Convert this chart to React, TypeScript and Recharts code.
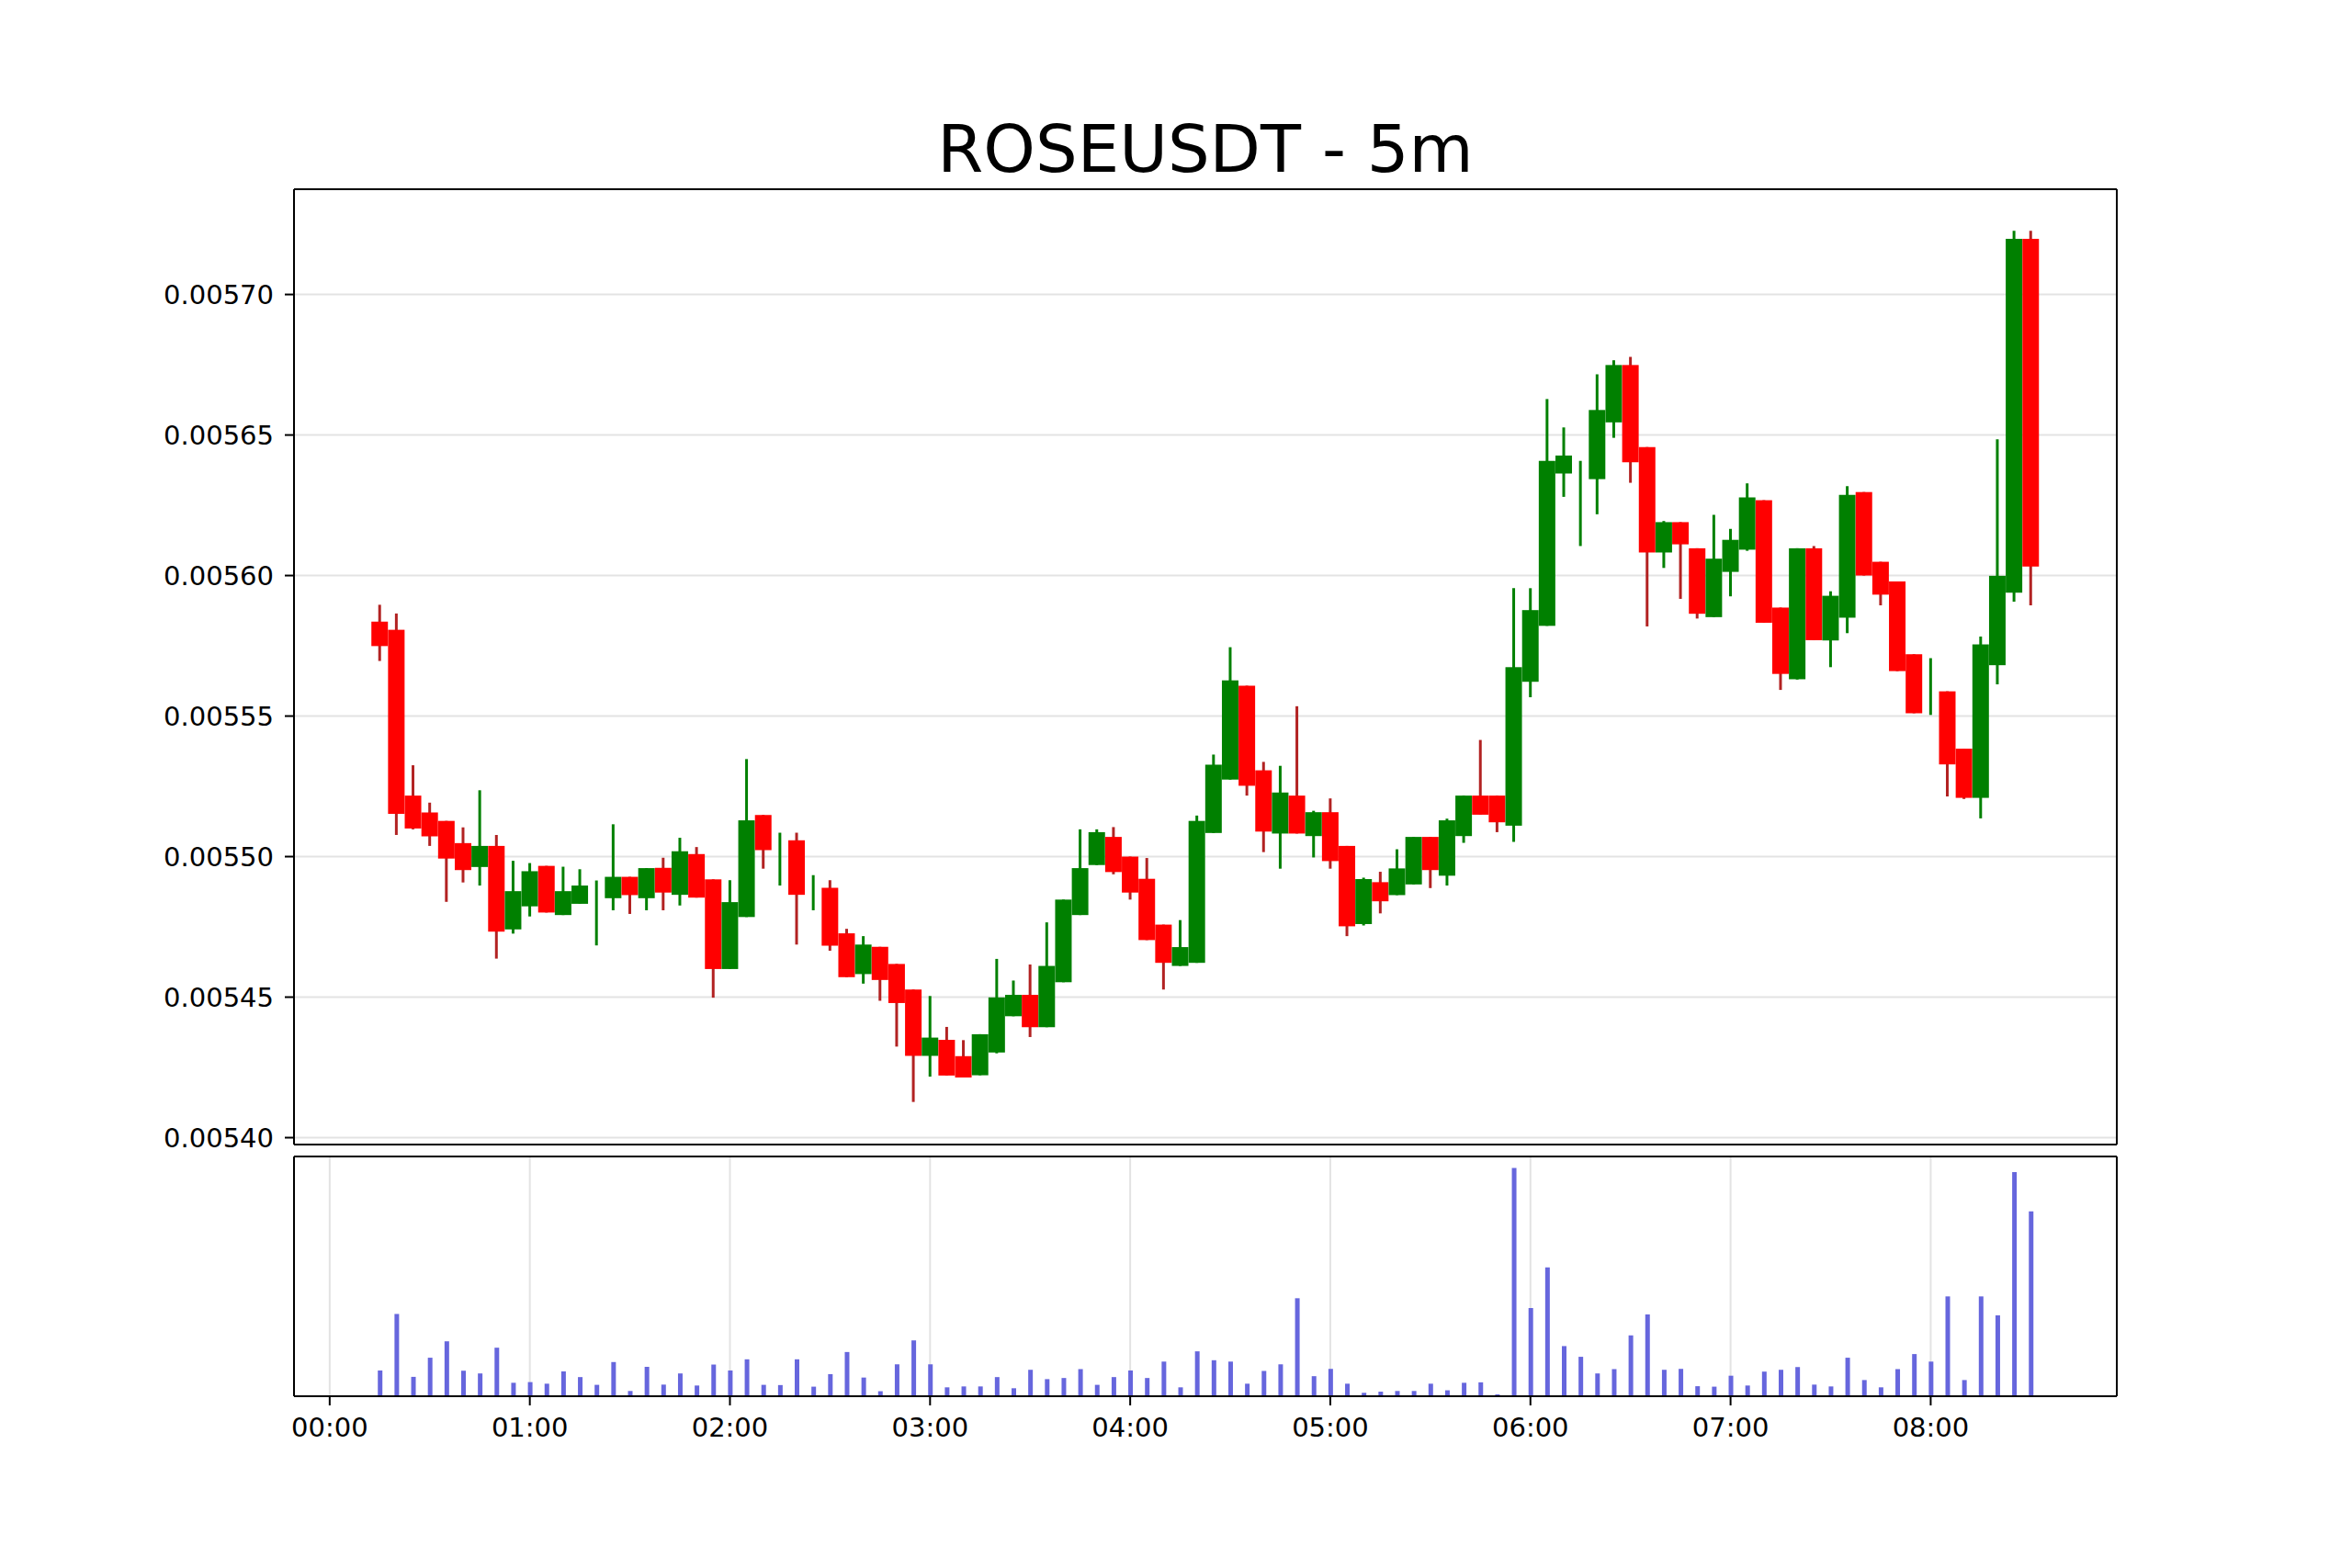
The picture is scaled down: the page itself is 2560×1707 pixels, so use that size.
import { Bar, CartesianGrid, ComposedChart, XAxis, YAxis } from 'recharts';

// 5m candles, ROSEUSDT
const times = [
  '00:15', '00:20', '00:25', '00:30', '00:35', '00:40', '00:45', '00:50', '00:55',
  '01:00', '01:05', '01:10', '01:15', '01:20', '01:25', '01:30', '01:35', '01:40', '01:45', '01:50', '01:55',
  '02:00', '02:05', '02:10', '02:15', '02:20', '02:25', '02:30', '02:35', '02:40', '02:45', '02:50', '02:55',
  '03:00', '03:05', '03:10', '03:15', '03:20', '03:25', '03:30', '03:35', '03:40', '03:45', '03:50', '03:55',
  '04:00', '04:05', '04:10', '04:15', '04:20', '04:25', '04:30', '04:35', '04:40', '04:45', '04:50', '04:55',
  '05:00', '05:05', '05:10', '05:15', '05:20', '05:25', '05:30', '05:35', '05:40', '05:45', '05:50', '05:55',
  '06:00', '06:05', '06:10', '06:15', '06:20', '06:25', '06:30', '06:35', '06:40', '06:45', '06:50', '06:55',
  '07:00', '07:05', '07:10', '07:15', '07:20', '07:25', '07:30', '07:35', '07:40', '07:45', '07:50', '07:55',
  '08:00', '08:05', '08:10', '08:15', '08:20', '08:25', '08:30',
];

const opens = [
  0.0055836, 0.0055807, 0.0055217, 0.0055157, 0.0055127, 0.0055048, 0.0054963, 0.0055038, 0.0054741,
  0.0054823, 0.0054967, 0.0054792, 0.0054832, 0.0054895, 0.0054852, 0.0054928, 0.0054852, 0.005496, 0.0054864, 0.0055009, 0.0054919,
  0.00546, 0.0054785, 0.0055148, 0.005499, 0.0055058, 0.005486, 0.0054889, 0.0054727, 0.0054582, 0.0054679, 0.0054618, 0.0054527,
  0.0054291, 0.0054348, 0.005429, 0.0054222, 0.0054303, 0.0054432, 0.0054508, 0.0054393, 0.0054553, 0.0054792, 0.005497, 0.005507,
  0.0055, 0.0054921, 0.0054758, 0.0054611, 0.0054622, 0.0055084, 0.0055274, 0.0055608, 0.0055307, 0.0055082, 0.0055217, 0.0055073,
  0.0055158, 0.0055038, 0.005476, 0.0054909, 0.0054863, 0.0054901, 0.005507, 0.0054932, 0.0055073, 0.0055217, 0.0055217, 0.005511,
  0.0055622, 0.0055821, 0.0056363, 0.00563, 0.0056343, 0.0056545, 0.0056749, 0.0056457, 0.0056082, 0.005619, 0.0056097, 0.0055852,
  0.0056013, 0.0056092, 0.0056268, 0.0055886, 0.0055631, 0.0056097, 0.0055769, 0.005585, 0.0056297, 0.0056049, 0.0055979, 0.005572,
  0.00556, 0.0055588, 0.0055384, 0.0055209, 0.0055681, 0.0055939, 0.0057198,
];

const highs = [
  0.0055896, 0.0055865, 0.0055325, 0.0055192, 0.0055127, 0.0055104, 0.0055236, 0.0055077, 0.0054985,
  0.0054977, 0.0054967, 0.0054964, 0.0054955, 0.0054915, 0.0055115, 0.0054928, 0.0054959, 0.0054996, 0.0055067, 0.0055034, 0.0054919,
  0.0054916, 0.0055347, 0.0055148, 0.0055085, 0.0055085, 0.0054934, 0.0054916, 0.0054743, 0.0054717, 0.0054679, 0.0054618, 0.0054527,
  0.0054504, 0.0054394, 0.0054347, 0.0054368, 0.0054636, 0.0054559, 0.0054616, 0.0054766, 0.0054847, 0.0055097, 0.0055097, 0.0055105,
  0.0055, 0.0054995, 0.0054758, 0.0054774, 0.0055146, 0.0055363, 0.0055745, 0.0055608, 0.0055337, 0.0055323, 0.0055535, 0.0055163,
  0.0055207, 0.0055038, 0.0054925, 0.0054946, 0.0055026, 0.005507, 0.005507, 0.0055135, 0.0055217, 0.0055415, 0.0055217, 0.0055955,
  0.0055955, 0.0056628, 0.0056527, 0.0056408, 0.0056716, 0.0056766, 0.0056778, 0.0056457, 0.0056194, 0.005619, 0.0056097, 0.0056216,
  0.0056166, 0.0056328, 0.0056268, 0.0055886, 0.0056097, 0.0056105, 0.0055944, 0.0056318, 0.0056297, 0.0056049, 0.0055979, 0.005572,
  0.0055706, 0.0055588, 0.0055384, 0.0055783, 0.0056485, 0.0057227, 0.0057227,
];

const lows = [
  0.0055696, 0.0055077, 0.0055097, 0.0055038, 0.0054839, 0.0054908, 0.0054897, 0.0054637, 0.0054726,
  0.0054787, 0.0054801, 0.0054792, 0.0054832, 0.0054684, 0.0054809, 0.0054796, 0.0054809, 0.0054809, 0.0054826, 0.0054854, 0.0054498,
  0.00546, 0.0054785, 0.0054957, 0.0054897, 0.0054687, 0.0054809, 0.0054665, 0.0054571, 0.0054548, 0.0054487, 0.0054324, 0.0054127,
  0.0054217, 0.0054221, 0.0054214, 0.0054222, 0.00543, 0.0054432, 0.0054358, 0.0054393, 0.0054553, 0.0054792, 0.005497, 0.0054937,
  0.0054847, 0.0054703, 0.0054527, 0.0054611, 0.0054622, 0.0055084, 0.0055274, 0.0055217, 0.0055016, 0.0054957, 0.0055082, 0.0054997,
  0.0054957, 0.0054717, 0.0054755, 0.0054798, 0.0054863, 0.0054901, 0.0054888, 0.0054897, 0.0055049, 0.0055149, 0.0055087, 0.0055052,
  0.0055567, 0.0055821, 0.005628, 0.0056105, 0.0056218, 0.005649, 0.005633, 0.0055819, 0.0056027, 0.0055917, 0.0055847, 0.0055852,
  0.0055926, 0.0056088, 0.0055832, 0.0055593, 0.005563, 0.005577, 0.0055674, 0.0055795, 0.0056, 0.0055894, 0.005566, 0.005551,
  0.0055504, 0.0055214, 0.0055205, 0.0055136, 0.0055613, 0.0055907, 0.0055894,
];

const closes = [
  0.0055749, 0.0055152, 0.00551, 0.0055072, 0.0054993, 0.0054952, 0.0055038, 0.0054733, 0.0054877,
  0.0054948, 0.0054801, 0.0054877, 0.0054897, 0.0054895, 0.0054928, 0.0054863, 0.0054959, 0.0054872, 0.0055019, 0.0054854, 0.00546,
  0.0054838, 0.0055129, 0.0055023, 0.005499, 0.0054864, 0.005486, 0.0054683, 0.0054571, 0.0054687, 0.0054561, 0.0054479, 0.0054291,
  0.0054356, 0.0054221, 0.0054214, 0.0054368, 0.0054499, 0.0054508, 0.0054393, 0.0054611, 0.0054847, 0.0054959, 0.0055087, 0.0054945,
  0.0054872, 0.0054703, 0.0054622, 0.0054678, 0.0055127, 0.0055327, 0.0055627, 0.0055252, 0.0055089, 0.0055228, 0.0055082, 0.0055158,
  0.0054984, 0.0054752, 0.005492, 0.0054841, 0.0054958, 0.005507, 0.0054952, 0.0055129, 0.0055217, 0.0055149, 0.0055122, 0.0055674,
  0.0055877, 0.0056408, 0.0056427, 0.00563, 0.0056589, 0.0056749, 0.0056403, 0.0056082, 0.005619, 0.0056111, 0.0055864, 0.005606,
  0.0056127, 0.0056278, 0.0055832, 0.005565, 0.0056097, 0.005577, 0.0055928, 0.0056287, 0.0056, 0.0055932, 0.005566, 0.005551,
  0.00556, 0.0055328, 0.0055209, 0.0055755, 0.0055999, 0.0057198, 0.0056032,
];

const volumes = [
  11.3, 36.1, 8.5, 16.9, 24.1, 11.2, 10.0, 21.3, 5.9,
  6.2, 5.5, 10.9, 8.4, 5.0, 15.0, 2.3, 12.9, 5.1, 10.0, 4.7, 13.9,
  11.3, 16.2, 5.0, 4.9, 16.2, 4.2, 9.7, 19.4, 8.2, 2.2, 14.0, 24.5,
  14.0, 3.9, 4.3, 4.3, 8.4, 3.5, 11.6, 7.5, 8.0, 11.9, 5.0, 8.4,
  11.3, 8.0, 15.2, 3.9, 19.7, 15.8, 15.2, 5.5, 11.1, 14.0, 43.0, 8.8,
  12.0, 5.5, 1.5, 2.0, 2.3, 2.3, 5.5, 2.6, 5.9, 6.1, 0.8, 100.2,
  38.7, 56.5, 22.0, 17.3, 10.0, 11.9, 26.7, 35.9, 11.6, 12.0, 4.4, 4.2,
  9.0, 4.7, 10.8, 11.6, 12.8, 5.1, 4.3, 16.9, 7.1, 3.9, 11.9, 18.5,
  15.2, 43.8, 7.1, 43.8, 35.5, 98.3, 81.1,
];

const hourTicks = [0, 60, 120, 180, 240, 300, 360, 420, 480];
const priceTicks = [0.0054, 0.00545, 0.0055, 0.00555, 0.0056, 0.00565, 0.0057];

const X_DOMAIN: [number, number] = [-10.7, 535.8];
const PRICE_DOMAIN: [number, number] = [0.00539755, 0.00573745];
const VOLUME_DOMAIN: [number, number] = [0, 105.2];

const UP = '#008000';
const DOWN = '#ff0000';
const DOWN_WICK = '#b22222';
const VOLUME_COLOR = '#6666dd';
const GRID = '#e3e3e3';
const FONT = 'DejaVu Sans';
const TICK = { fill: '#000', fontSize: 29, fontFamily: FONT };
const AXIS_LINE = { stroke: '#000', strokeWidth: 2 };
const CANDLE_W = 18;

const toMinutes = (t: string) => {
  const [h, m] = t.split(':').map(Number);
  return h * 60 + m;
};

const rows = times.map((t, i) => ({
  t: toMinutes(t),
  open: opens[i],
  high: highs[i],
  low: lows[i],
  close: closes[i],
  volume: volumes[i],
}));

const hourLabel = (m: number) => `${String(Math.round(m / 60)).padStart(2, '0')}:00`;

// range bar [low, high] gives the pixel span; open/close are placed inside it
function Candle(props: any) {
  const { x, y, width, height, payload } = props;
  if (!payload || height == null) return null;
  const cx = x + width / 2;
  const yHigh = Math.min(y, y + height);
  const yLow = Math.max(y, y + height);
  const { open, close, high, low } = payload;
  const k = (yLow - yHigh) / (high - low || 1);
  const py = (v: number) => yHigh + (high - v) * k;
  const up = close >= open;
  const bodyTop = py(Math.max(open, close));
  const bodyBottom = py(Math.min(open, close));
  return (
    <g>
      <line x1={cx} x2={cx} y1={yHigh} y2={yLow} stroke={up ? UP : DOWN_WICK} strokeWidth={3} />
      {bodyBottom - bodyTop > 0 && (
        <rect
          x={cx - CANDLE_W / 2}
          y={bodyTop}
          width={CANDLE_W}
          height={bodyBottom - bodyTop}
          fill={up ? UP : DOWN}
        />
      )}
    </g>
  );
}

export default function App() {
  return (
    <div style={{ position: 'absolute', left: 0, top: 0, width: 2560, height: 1707, background: '#fff' }}>
      <svg width={2560} height={240} style={{ position: 'absolute', left: 0, top: 0 }}>
        <text x={1312} y={187} textAnchor="middle" fontSize={72} fontFamily={FONT} fill="#000">
          ROSEUSDT - 5m
        </text>
      </svg>

      <div style={{ position: 'absolute', left: 0, top: 0 }}>
        <ComposedChart
          width={2560}
          height={1280}
          data={rows}
          margin={{ top: 205, right: 255, bottom: 33, left: 120 }}
        >
          <CartesianGrid stroke={GRID} strokeWidth={2} />
          <XAxis
            dataKey="t"
            type="number"
            domain={X_DOMAIN}
            ticks={hourTicks}
            allowDataOverflow
            height={1}
            tick={false}
            tickLine={false}
            axisLine={AXIS_LINE}
          />
          <XAxis
            xAxisId="top"
            orientation="top"
            type="number"
            domain={X_DOMAIN}
            height={1}
            tick={false}
            tickLine={false}
            axisLine={AXIS_LINE}
          />
          <YAxis
            type="number"
            domain={PRICE_DOMAIN}
            ticks={priceTicks}
            interval={0}
            allowDataOverflow
            width={200}
            tick={TICK}
            tickSize={10}
            tickMargin={12}
            tickLine={AXIS_LINE}
            axisLine={AXIS_LINE}
            tickFormatter={(v: number) => v.toFixed(5)}
          />
          <YAxis
            yAxisId="right"
            orientation="right"
            type="number"
            domain={PRICE_DOMAIN}
            width={1}
            tick={false}
            tickLine={false}
            axisLine={AXIS_LINE}
          />
          <Bar
            dataKey={(d: any) => [d.low, d.high]}
            barSize={CANDLE_W}
            shape={(p: any) => <Candle {...p} />}
            isAnimationActive={false}
          />
        </ComposedChart>
      </div>

      <div style={{ position: 'absolute', left: 0, top: 1200 }}>
        <ComposedChart
          width={2560}
          height={420}
          data={rows}
          margin={{ top: 58, right: 255, bottom: 40, left: 120 }}
        >
          <CartesianGrid stroke={GRID} strokeWidth={2} horizontal={false} />
          <XAxis
            dataKey="t"
            type="number"
            domain={X_DOMAIN}
            ticks={hourTicks}
            interval={0}
            allowDataOverflow
            height={60}
            tick={TICK}
            tickSize={10}
            tickMargin={13}
            tickLine={AXIS_LINE}
            axisLine={AXIS_LINE}
            tickFormatter={hourLabel}
          />
          <XAxis
            xAxisId="top"
            orientation="top"
            type="number"
            domain={X_DOMAIN}
            height={1}
            tick={false}
            tickLine={false}
            axisLine={AXIS_LINE}
          />
          <YAxis
            type="number"
            domain={VOLUME_DOMAIN}
            allowDataOverflow
            width={200}
            tick={false}
            tickLine={false}
            axisLine={AXIS_LINE}
          />
          <YAxis
            yAxisId="right"
            orientation="right"
            type="number"
            domain={VOLUME_DOMAIN}
            width={1}
            tick={false}
            tickLine={false}
            axisLine={AXIS_LINE}
          />
          <Bar dataKey="volume" barSize={5} fill={VOLUME_COLOR} isAnimationActive={false} />
        </ComposedChart>
      </div>
    </div>
  );
}
